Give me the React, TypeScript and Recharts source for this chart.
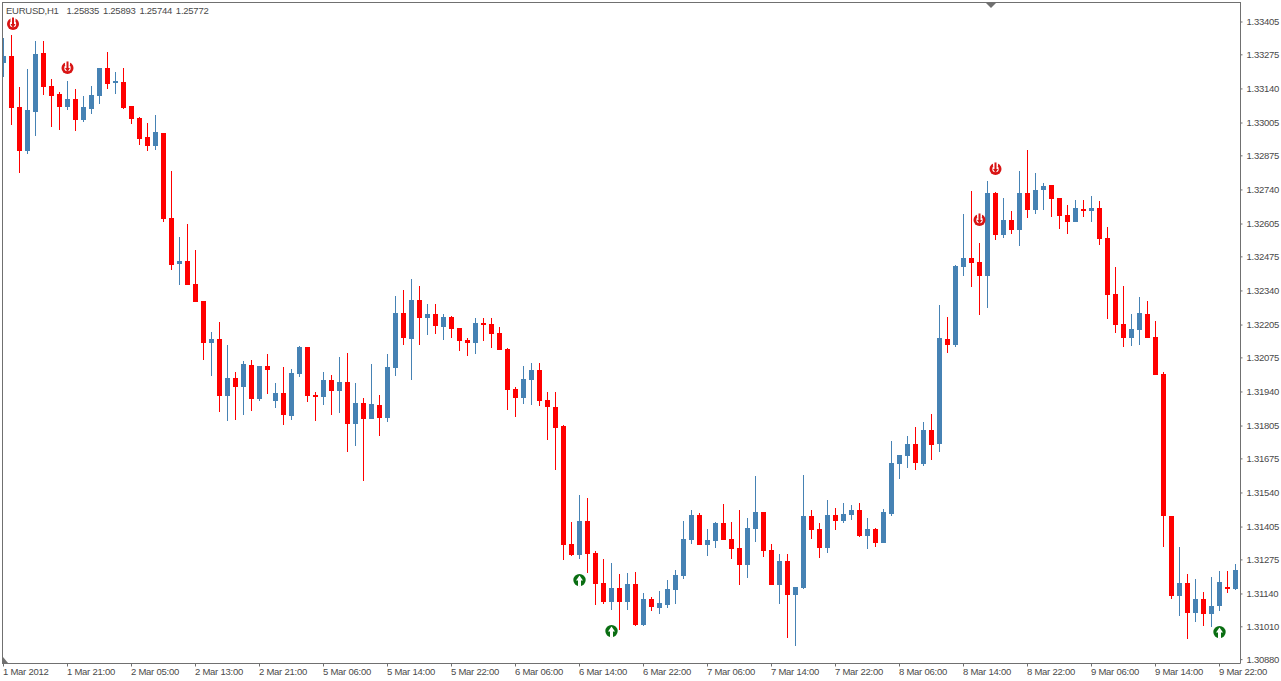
import { Bar, ComposedChart, ReferenceDot, XAxis, YAxis } from 'recharts';

const FONT = '"Liberation Sans", Arial, sans-serif';
const TEXT_COLOR = '#4a4a4a';
const FRAME_COLOR = '#707070';
const UP_COLOR = '#4682B4';
const DOWN_COLOR = '#FF0000';

const title = 'EURUSD,H1  1.25835 1.25893 1.25744 1.25772';

const highs = [
  1.33342, 1.33353, 1.33147, 1.33219, 1.3333, 1.3333, 1.33179, 1.33128, 1.33171, 1.3314,
  1.33112, 1.33151, 1.33223, 1.33286, 1.33207, 1.33223, 1.33072, 1.33029, 1.33005, 1.33037,
  1.32965, 1.32815, 1.32553, 1.32605, 1.32502, 1.323, 1.32177, 1.32217, 1.32126, 1.32019,
  1.32062, 1.32066, 1.32043, 1.3209, 1.31975, 1.32039, 1.32031, 1.32122, 1.32118, 1.3194,
  1.32019, 1.32007, 1.32078, 1.32094, 1.31975, 1.31916, 1.32051, 1.31928, 1.3209, 1.3232,
  1.32344, 1.32387, 1.32359, 1.32288, 1.32288, 1.32249, 1.32241, 1.32193, 1.32154, 1.32233,
  1.32233, 1.32233, 1.32197, 1.32114, 1.31959, 1.32043, 1.32055, 1.32055, 1.3194, 1.3194,
  1.31809, 1.31425, 1.31532, 1.3152, 1.3131, 1.31278, 1.31263, 1.31219, 1.31223, 1.31227,
  1.31144, 1.31128, 1.31152, 1.31195, 1.31235, 1.31429, 1.31472, 1.31461, 1.31397, 1.31425,
  1.31496, 1.31425, 1.31472, 1.31441, 1.31607, 1.31464, 1.31338, 1.31298, 1.31298, 1.31167,
  1.31611, 1.31472, 1.31421, 1.31512, 1.3148, 1.315, 1.31492, 1.315, 1.31441, 1.31401,
  1.31476, 1.31746, 1.3169, 1.31765, 1.31801, 1.31821, 1.31853, 1.32284, 1.32237, 1.32443,
  1.32645, 1.32736, 1.3253, 1.32775, 1.32732, 1.32708, 1.32656, 1.32815, 1.32898, 1.32807,
  1.32767, 1.32759, 1.32708, 1.3268, 1.327, 1.327, 1.32716, 1.32696, 1.32593, 1.32435,
  1.32359, 1.32249, 1.32316, 1.323, 1.32221, 1.32019, 1.31449, 1.31326, 1.31219, 1.31199,
  1.31148, 1.31207, 1.31231, 1.31231, 1.31259,
];

const lows = [
  1.33187, 1.32997, 1.32807, 1.32882, 1.32953, 1.33116, 1.32989, 1.32977, 1.33056, 1.32973,
  1.33009, 1.33041, 1.3308, 1.3314, 1.3312, 1.3306, 1.33001, 1.32918, 1.32894, 1.32898,
  1.32613, 1.32423, 1.32363, 1.32363, 1.32296, 1.32066, 1.32003, 1.3186, 1.31825, 1.31829,
  1.31849, 1.31864, 1.31904, 1.31932, 1.31876, 1.31809, 1.31829, 1.31999, 1.319, 1.31825,
  1.31888, 1.31849, 1.31857, 1.31702, 1.31726, 1.31587, 1.31833, 1.31765, 1.31821, 1.32003,
  1.32126, 1.31987, 1.32126, 1.32165, 1.32169, 1.32146, 1.32154, 1.32102, 1.32082, 1.3209,
  1.32142, 1.32114, 1.32106, 1.31868, 1.31841, 1.31892, 1.31888, 1.31884, 1.3175, 1.31631,
  1.31274, 1.3129, 1.31278, 1.31223, 1.31096, 1.311, 1.31076, 1.30997, 1.31076, 1.31013,
  1.31013, 1.31072, 1.31061, 1.31084, 1.311, 1.31199, 1.31338, 1.31334, 1.3129, 1.31322,
  1.31354, 1.31278, 1.31175, 1.31203, 1.31346, 1.31286, 1.31175, 1.311, 1.30966, 1.30934,
  1.3116, 1.31358, 1.31282, 1.31302, 1.31393, 1.31421, 1.31433, 1.31365, 1.31318, 1.31326,
  1.31342, 1.31449, 1.31595, 1.31639, 1.31631, 1.31647, 1.3167, 1.31702, 1.32094, 1.32118,
  1.32399, 1.32355, 1.32245, 1.32272, 1.32542, 1.3255, 1.32565, 1.32518, 1.32629, 1.32645,
  1.3266, 1.32633, 1.32585, 1.32565, 1.32613, 1.32633, 1.32613, 1.32522, 1.32229, 1.32173,
  1.32118, 1.32122, 1.32126, 1.32154, 1.32007, 1.31326, 1.3112, 1.31053, 1.30962, 1.31029,
  1.31013, 1.31009, 1.31072, 1.31144, 1.31156,
];

const opens = [
  1.33243, 1.3327, 1.33068, 1.32894, 1.33048, 1.33282, 1.33151, 1.3312, 1.33068, 1.331,
  1.33017, 1.3306, 1.33112, 1.33223, 1.33163, 1.33167, 1.33072, 1.33025, 1.32949, 1.32914,
  1.32965, 1.32629, 1.32447, 1.32458, 1.32367, 1.323, 1.32134, 1.3215, 1.31924, 1.31995,
  1.31959, 1.32047, 1.31912, 1.32043, 1.31904, 1.31936, 1.31845, 1.32011, 1.32118, 1.31928,
  1.3192, 1.31987, 1.31944, 1.31979, 1.31813, 1.31896, 1.31833, 1.31888, 1.31837, 1.32035,
  1.32253, 1.3215, 1.32304, 1.32233, 1.32249, 1.32197, 1.32237, 1.32193, 1.32146, 1.32134,
  1.32213, 1.32209, 1.32173, 1.3211, 1.31952, 1.31916, 1.31987, 1.32027, 1.31908, 1.3188,
  1.31805, 1.31338, 1.31294, 1.31429, 1.31302, 1.31183, 1.31108, 1.31164, 1.31108, 1.31179,
  1.31017, 1.3112, 1.31084, 1.31096, 1.31156, 1.31211, 1.31354, 1.31453, 1.31334, 1.3135,
  1.31421, 1.31358, 1.31322, 1.31255, 1.31397, 1.31464, 1.31314, 1.31175, 1.3127, 1.31136,
  1.31164, 1.31449, 1.31397, 1.31322, 1.31453, 1.31429, 1.31453, 1.31472, 1.31369, 1.31397,
  1.31342, 1.31457, 1.31655, 1.31686, 1.31734, 1.31655, 1.31789, 1.31734, 1.3215, 1.32126,
  1.32435, 1.3247, 1.32454, 1.32399, 1.32728, 1.32561, 1.32621, 1.32581, 1.32728, 1.3266,
  1.3274, 1.32759, 1.32708, 1.32641, 1.32613, 1.32664, 1.32656, 1.32668, 1.3255, 1.32328,
  1.32209, 1.32154, 1.32185, 1.32249, 1.32157, 1.32011, 1.31449, 1.31132, 1.31183, 1.31065,
  1.3112, 1.31061, 1.31092, 1.31167, 1.3116,
];

const closes = [
  1.3327, 1.33064, 1.32894, 1.33056, 1.33278, 1.33147, 1.33112, 1.33068, 1.331, 1.33017,
  1.33068, 1.33116, 1.33223, 1.33159, 1.33171, 1.33064, 1.33021, 1.32942, 1.32914, 1.32969,
  1.32625, 1.32443, 1.32458, 1.32363, 1.32296, 1.32134, 1.3215, 1.31924, 1.31995, 1.31959,
  1.32051, 1.31912, 1.32043, 1.32027, 1.31936, 1.31849, 1.32015, 1.32118, 1.31924, 1.31924,
  1.31987, 1.31944, 1.31979, 1.31813, 1.31896, 1.31833, 1.31892, 1.31837, 1.32039, 1.32253,
  1.32154, 1.32304, 1.32233, 1.32249, 1.32201, 1.32237, 1.32189, 1.32142, 1.32134, 1.32213,
  1.32205, 1.32169, 1.32106, 1.31948, 1.31916, 1.31991, 1.32027, 1.31904, 1.3188, 1.31797,
  1.31334, 1.31294, 1.31429, 1.31298, 1.31179, 1.31108, 1.31164, 1.31108, 1.31179, 1.31017,
  1.3112, 1.31088, 1.31104, 1.3116, 1.31215, 1.31358, 1.31453, 1.31334, 1.31354, 1.31421,
  1.31354, 1.31318, 1.31255, 1.31401, 1.31464, 1.3131, 1.31175, 1.3127, 1.31136, 1.31167,
  1.31449, 1.31393, 1.31322, 1.31453, 1.31429, 1.31457, 1.31472, 1.31369, 1.31397, 1.31342,
  1.31464, 1.31659, 1.3169, 1.31734, 1.31659, 1.31789, 1.3173, 1.32154, 1.32126, 1.32439,
  1.3247, 1.32451, 1.32399, 1.32728, 1.32561, 1.32621, 1.32581, 1.32728, 1.3266, 1.3274,
  1.32755, 1.32704, 1.32637, 1.32613, 1.32668, 1.32656, 1.32668, 1.32546, 1.32324, 1.32205,
  1.32154, 1.32189, 1.32253, 1.32154, 1.32007, 1.31449, 1.31132, 1.31183, 1.31065, 1.3112,
  1.31061, 1.31092, 1.31187, 1.3116, 1.31235,
];

const timeLabels = [
  '1 Mar 2012', '1 Mar 21:00', '2 Mar 05:00', '2 Mar 13:00', '2 Mar 21:00',
  '5 Mar 06:00', '5 Mar 14:00', '5 Mar 22:00', '6 Mar 06:00', '6 Mar 14:00',
  '6 Mar 22:00', '7 Mar 06:00', '7 Mar 14:00', '7 Mar 22:00', '8 Mar 06:00',
  '8 Mar 14:00', '8 Mar 22:00', '9 Mar 06:00', '9 Mar 14:00', '9 Mar 22:00',
];

const priceTicks = [
  1.33405, 1.33275, 1.3314, 1.33005, 1.32875, 1.3274, 1.32605, 1.32475, 1.3234, 1.32205,
  1.32075, 1.3194, 1.31805, 1.31675, 1.3154, 1.31405, 1.31275, 1.3114, 1.3101, 1.3088,
];

// bar index and price of the arrow signals
const sellSignals = [
  [1, 1.33397],
  [8, 1.33223],
  [122, 1.32621],
  [124, 1.32823],
];
const buySignals = [
  [72, 1.31195],
  [76, 1.30993],
  [152, 1.30989],
];

const data = highs.map((high, idx) => ({
  idx,
  high,
  low: lows[idx],
  open: opens[idx],
  close: closes[idx],
}));

function Candle({ x, y, width, height, payload }: any) {
  const { high, low, open, close } = payload;
  const k = height / (high - low);
  const color = close >= open ? UP_COLOR : DOWN_COLOR;
  const bodyTop = y + (high - Math.max(open, close)) * k;
  const bodyHeight = Math.max(Math.abs(open - close) * k, 2);
  // the bar comes in on a half pixel, snap it so the wick stays 1px wide
  const left = Math.floor(x);
  return (
    <g shapeRendering="crispEdges">
      <rect x={left + (width - 1) / 2} y={y} width={1} height={height} fill={color} />
      <rect x={left} y={bodyTop} width={width} height={bodyHeight} fill={color} />
    </g>
  );
}

function SellMark({ cx, cy, nudge = 0 }: any) {
  const x = cx + nudge;
  return (
    <g>
      <circle cx={x} cy={cy} r={6} fill="#D81414" />
      <circle cx={x} cy={cy} r={3.2} fill="#ffffff" />
      <rect x={x - 2.5} y={cy - 6.5} width={5} height={4} fill="#ffffff" />
      <rect x={x - 1} y={cy - 6.5} width={2} height={8} fill="#D81414" />
      <path d={`M${x - 2.5} ${cy} L${x + 2.5} ${cy} L${x} ${cy + 4} Z`} fill="#D81414" />
    </g>
  );
}

function BuyMark({ cx, cy }: any) {
  return (
    <g>
      <circle cx={cx} cy={cy} r={6.2} fill="#0A6E12" />
      <rect x={cx - 1.5} y={cy - 1} width={3} height={7.5} fill="#ffffff" />
      <path d={`M${cx - 3.5} ${cy + 0.5} L${cx + 3.5} ${cy + 0.5} L${cx} ${cy - 4.5} Z`} fill="#ffffff" />
    </g>
  );
}

function TimeTick({ x, y, payload }: any) {
  return (
    <text
      x={x - 0.5}
      y={y + 6.5}
      fontSize={9.5}
      letterSpacing={-0.25}
      fontFamily={FONT}
      fill={TEXT_COLOR}
      textAnchor="start"
    >
      {timeLabels[payload.value / 8]}
    </text>
  );
}

export default function App() {
  return (
    <div style={{ position: 'absolute', left: 0, top: 0, width: 1281, height: 681, background: '#fff', overflow: 'hidden' }}>
      <ComposedChart
        width={1281}
        height={681}
        data={data}
        margin={{ top: 2.5, right: 0, bottom: 0, left: -0.5 }}
      >
        <XAxis
          dataKey="idx"
          height={17.5}
          interval={7}
          padding={{ left: 0, right: 1 }}
          stroke={FRAME_COLOR}
          tickSize={3}
          tick={<TimeTick />}
        />
        <YAxis
          orientation="right"
          width={40.5}
          domain={[1.308647, 1.334822]}
          allowDataOverflow
          ticks={priceTicks}
          interval={0}
          stroke={FRAME_COLOR}
          tickSize={2}
          tickMargin={4}
          tickFormatter={(v: number) => v.toFixed(5)}
          tick={{ fontSize: 9.5, letterSpacing: -0.25, fontFamily: FONT, fill: TEXT_COLOR }}
        />
        <Bar
          dataKey={(d: any) => [d.low, d.high]}
          barSize={5}
          shape={<Candle />}
          isAnimationActive={false}
        />
        {sellSignals.map(([idx, price]) => (
          <ReferenceDot key={idx} x={idx} y={price} shape={<SellMark nudge={idx === 1 ? 1.5 : 0} />} />
        ))}
        {buySignals.map(([idx, price]) => (
          <ReferenceDot key={idx} x={idx} y={price} shape={<BuyMark />} />
        ))}
      </ComposedChart>

      {/* window frame over the chart: it hides what runs past the left edge */}
      <div style={{ position: 'absolute', left: 0, top: 0, width: 2, height: 664, background: '#fff' }} />
      <div style={{ position: 'absolute', left: 2, top: 2, width: 1, height: 662, background: FRAME_COLOR }} />
      <div style={{ position: 'absolute', left: 2, top: 2, width: 1239, height: 1, background: FRAME_COLOR }} />
      <svg width={1281} height={681} style={{ position: 'absolute', left: 0, top: 0, pointerEvents: 'none' }}>
        <path d="M986 3 L996 3 L991 8 Z" fill={FRAME_COLOR} />
        <path d="M3 657 L3 663 L8 663 Z" fill={FRAME_COLOR} />
      </svg>
      <div
        style={{
          position: 'absolute',
          left: 6,
          top: 5,
          fontFamily: FONT,
          fontSize: 9.5,
          letterSpacing: -0.25,
          wordSpacing: 1.5,
          lineHeight: '11px',
          color: TEXT_COLOR,
          whiteSpace: 'pre',
        }}
      >
        {title}
      </div>
    </div>
  );
}
